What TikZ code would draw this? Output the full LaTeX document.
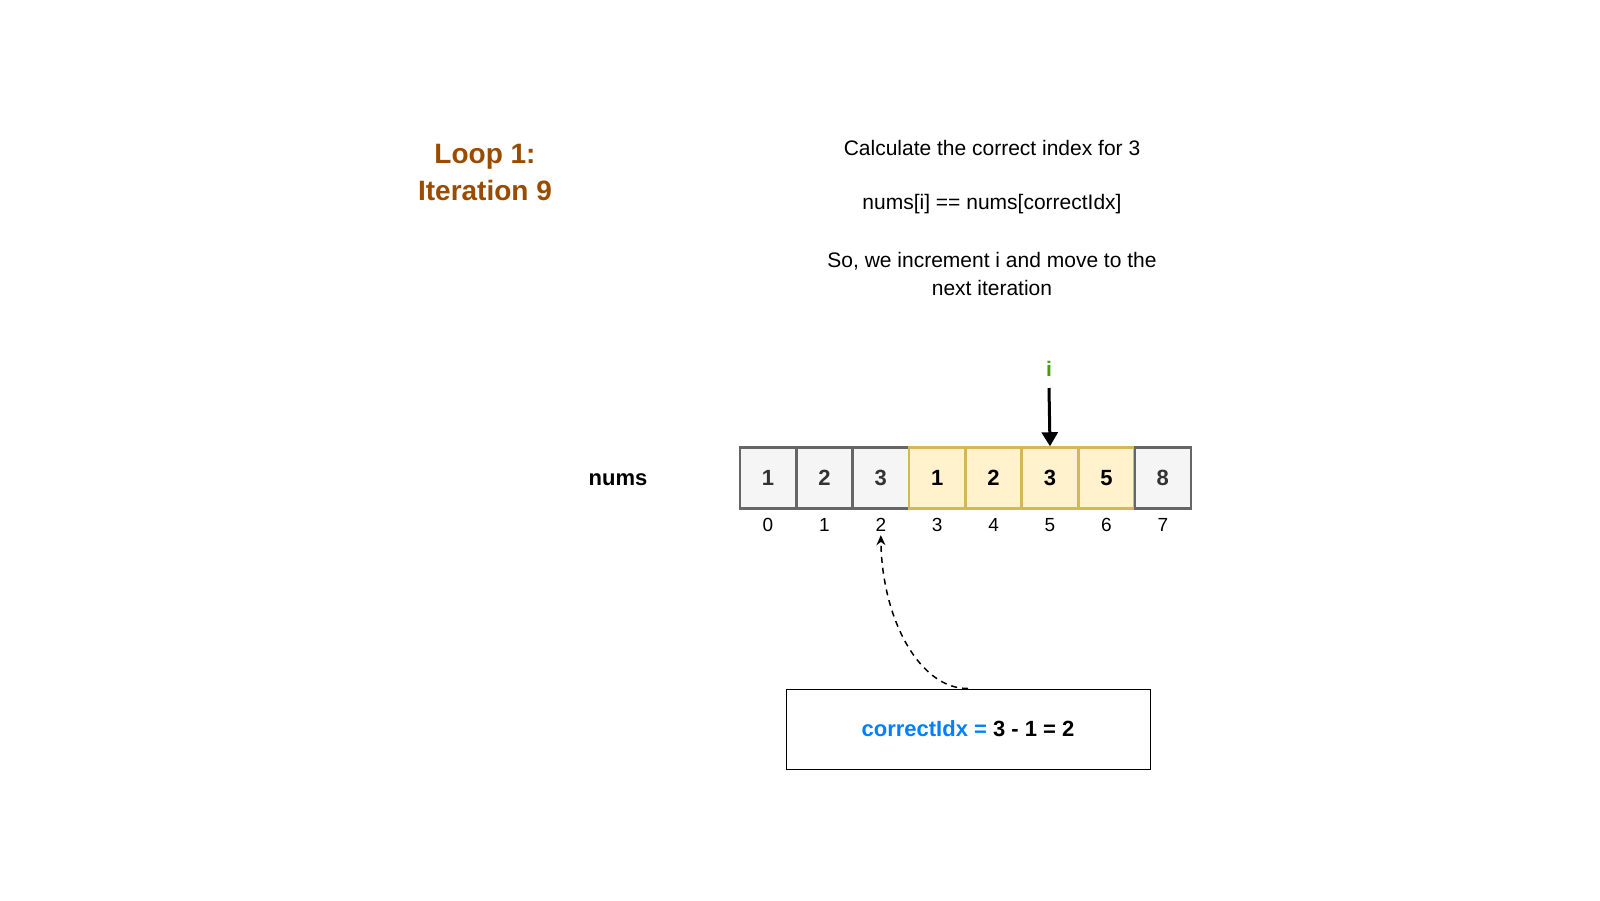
\documentclass[tikz,border=0pt]{standalone}
\usepackage{fontspec}
\setmainfont{Liberation Sans}
\usetikzlibrary{arrows.meta}
\definecolor{grayfill}{HTML}{F5F5F5}
\definecolor{grayline}{HTML}{666666}
\definecolor{yelfill}{HTML}{FFF2CC}
\definecolor{yelline}{HTML}{D6B656}
\definecolor{titlec}{HTML}{994C00}
\definecolor{greenc}{HTML}{4D9900}
\definecolor{bluec}{HTML}{007FFF}
\begin{document}
\begin{tikzpicture}[x=1pt,y=-1pt,
  cellg/.style={draw=grayline,fill=grayfill,line width=2.5pt,minimum width=56pt,minimum height=61pt,inner sep=0pt,font=\fontsize{22}{26}\selectfont\bfseries,text=black!80},
  celly/.style={draw=yelline,fill=yelfill,line width=2.5pt,minimum width=56pt,minimum height=61pt,inner sep=0pt,font=\fontsize{22}{26}\selectfont\bfseries},
  idx/.style={font=\fontsize{19}{22}\selectfont},
  body/.style={font=\fontsize{21}{28}\selectfont,align=center}]
\useasboundingbox (0,0) rectangle (1600,900);
\node[font=\fontsize{28}{37}\selectfont\bfseries,text=titlec,align=center] (title) at (485,172) {Loop 1:\\Iteration 9};
\node[body] (t1) at (992,148) {Calculate the correct index for 3};
\node[body] (t2) at (992,204) {nums[i] == nums[correctIdx]};
\node[body] (t3) at (992,274) {So, we increment i and move to the\\next iteration};
\node[font=\fontsize{22}{26}\selectfont\bfseries] (lbl) at (618,480) {nums};
\foreach \v/\s [count=\k from 0] in {1/cellg,2/cellg,3/cellg,1/celly,2/celly,3/celly,5/celly,8/cellg}{
  \node[\s] (c\k) at (768+\k*56.4,478) {\v};
  \node[idx] (i\k) at (768+\k*56.4,525) {\k};
}
\node[font=\fontsize{21}{24}\selectfont\bfseries,text=greenc] (ilbl) at (1049,369) {i};
\coordinate (as) at (1049,388);
\draw[line width=3pt,-{Triangle[width=16pt,length=14pt]}] (as) -- (c5.north);
\node[draw,line width=1pt,minimum width=364pt,minimum height=80pt,font=\fontsize{22}{26}\selectfont\bfseries] (box) at (968,729) {\textcolor{bluec}{correctIdx =} 3 - 1 = 2};
\draw[dashed,line width=1.5pt,dash pattern=on 6pt off 5pt,-{Stealth[width=9pt,length=10pt]}] (box.north) .. controls (920,689) and (882,620) .. (i2.south);
\end{tikzpicture}
\end{document}
